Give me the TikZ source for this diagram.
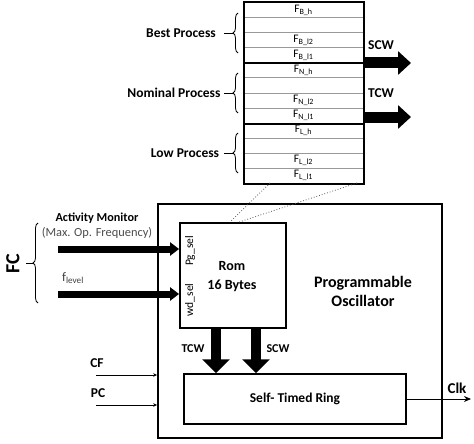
\documentclass[tikz,border=0pt]{standalone}
\usepackage{fontspec}
\setmainfont{Carlito}
\usetikzlibrary{arrows.meta,decorations.pathreplacing,positioning}

\begin{document}
\begin{tikzpicture}[x=1pt,y=-1pt,
  lbl/.style={font=\fontsize{13.5}{15}\selectfont\bfseries},
  rowbox/.style={draw=black!40,line width=1pt,minimum width=119pt,minimum height=15pt,inner sep=0pt,font=\fontsize{11.5}{12}\selectfont},
  blk/.style={draw,line width=1.8pt,inner sep=0pt},
  fatright/.style={line width=11pt,-{Triangle[width=23pt,length=13pt]}},
  fatdown/.style={line width=10pt,-{Triangle[width=27pt,length=14pt]}},
  feed/.style={line width=7pt,-{Triangle[width=13pt,length=9pt]}},
  thin/.style={line width=0.8pt,-{Stealth[length=4pt,width=3.5pt]}},
  brc/.style={decorate,decoration={brace,amplitude=5pt},line width=0.8pt}]

\useasboundingbox (0,0) rectangle (474,444);

% rom contents
\foreach \txt [count=\i] in {F\textsubscript{B\_h},{},F\textsubscript{B\_l2},F\textsubscript{B\_l1},
    F\textsubscript{N\_h},{},F\textsubscript{N\_l2},F\textsubscript{N\_l1},
    F\textsubscript{L\_h},{},F\textsubscript{L\_l2},F\textsubscript{L\_l1}}
  \node[rowbox] (r\i) at (303.5,{15*\i-4.5}) {\txt};
\draw[line width=2pt] (r1.north west) rectangle (r12.south east);
\draw[line width=2pt] (r4.south west) -- (r4.south east)
                      (r8.south west) -- (r8.south east);

% process groups
\node[lbl] (best) at (181,33) {Best Process};
\node[lbl] (nom)  at (174,93) {Nominal Process};
\node[lbl] (low)  at (185,153) {Low Process};
\draw[brc] (238,53) -- (238,13);
\draw[brc] (238,113) -- (238,73);
\draw[brc] (238,173) -- (238,133);
\draw[line width=0.8pt] (224,33) -- (233,33)
                        (224,93) -- (233,93)
                        (224,153) -- (233,153);

% words out of the table
\coordinate (scwout) at (411,63);
\coordinate (tcwout) at (411,117);
\draw[fatright] (scwout -| r4.east) -- (scwout);
\draw[fatright] (tcwout -| r8.east) -- (tcwout);
\node[lbl] (scwl) at (381,45) {SCW};
\node[lbl] (tcwl) at (381,93) {TCW};

% oscillator
\node[blk,minimum width=284pt,minimum height=234pt] (osc) at (300,321) {};
\node[blk,minimum width=106pt,minimum height=105pt] (rom) at (233,275.5) {};
\node[blk,line width=1.5pt,minimum width=222pt,minimum height=50pt] (str) at (295,399) {};
\node[font=\fontsize{14}{19}\selectfont\bfseries,align=center] (romtxt) at (232,277) {Rom\\16 Bytes};
\node[font=\fontsize{16}{19}\selectfont\bfseries,align=center] (osctxt) at (363,291) {Programmable\\Oscillator};
\node[font=\fontsize{13.5}{15}\selectfont\bfseries] (strtxt) at (295,399) {Self- Timed Ring};
\node[rotate=90,font=\fontsize{11.5}{12}\selectfont] (pg) at (190,251) {Pg\_sel};
\node[rotate=90,font=\fontsize{11.5}{12}\selectfont] (wd) at (190,300) {wd\_sel};

% zoom lines
\coordinate (z1) at (270,183);
\coordinate (z2) at (357,183);
\draw[dotted,line width=0.8pt,black!65] (z1) -- (rom.north west -| 230,0);
\draw[dotted,line width=0.8pt,black!65] (z2) -- (rom.north west -| 239,0);

% rom to ring
\draw[fatdown] ([xshift=-17pt]rom.south) -- ([xshift=-17pt]rom.south |- str.north);
\draw[fatdown] ([xshift=23pt]rom.south) -- ([xshift=23pt]rom.south |- str.north);
\node[font=\fontsize{12}{14}\selectfont\bfseries] (tcwd) at (193,349) {TCW};
\node[font=\fontsize{12}{14}\selectfont\bfseries] (scwd) at (278,349) {SCW};

% inputs
\node[font=\fontsize{12.2}{14}\selectfont\bfseries] (act) at (97,218) {Activity Monitor};
\node[font=\fontsize{12.4}{14}\selectfont,text=black!70] (maxf) at (97,233) {(Max. Op. Frequency)};
\node[font=\fontsize{13}{14}\selectfont,text=black!75] (flev) at (73,278) {f\textsubscript{level}};
\coordinate (amin) at (58,249);
\coordinate (flin) at (58,294);
\draw[feed] (amin) -- (amin -| rom.west);
\draw[feed] (flin) -- (flin -| rom.west);
\node[rotate=90,font=\fontsize{20}{21}\selectfont\bfseries] (fc) at (13,264) {FC};
\draw[brc] (38,303) -- (38,223);
\draw[line width=0.8pt] (26,263) -- (33,263);

\node[font=\fontsize{13.5}{15}\selectfont\bfseries] (cf) at (97,363) {CF};
\node[font=\fontsize{13.5}{15}\selectfont\bfseries] (pc) at (98,393) {PC};
\coordinate (cfin) at (96,375);
\coordinate (pcin) at (96,405);
\draw[thin] (cfin) -- (cfin -| osc.west);
\draw[thin] (pcin) -- (pcin -| osc.west);

% output
\coordinate (clkout) at (471,399);
\draw[line width=0.9pt,-{Stealth[length=7pt,width=6pt]}] (str.east) -- (clkout);
\node[font=\fontsize{15}{16}\selectfont\bfseries] (clk) at (457,388) {Clk};

\end{tikzpicture}
\end{document}
